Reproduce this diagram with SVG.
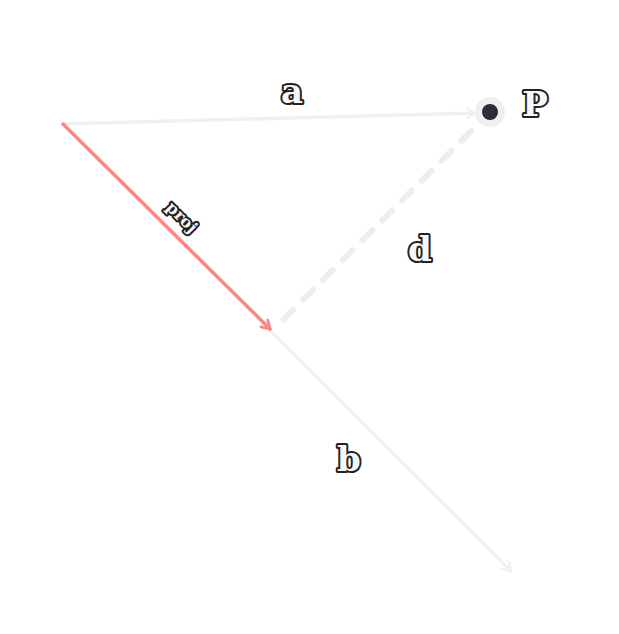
<svg xmlns="http://www.w3.org/2000/svg" width="619" height="634" viewBox="0 0 619 634">
<style>
.vec{fill:none;stroke:#f0f0f0;stroke-linecap:round}
.lbl{font-family:"DejaVu Serif","Liberation Serif",serif;font-weight:bold;fill:#f7f7f7;stroke:#222222;stroke-width:4;paint-order:stroke;stroke-linejoin:round;text-anchor:middle}
</style>
<defs>
<marker id="ahg" viewBox="0 0 12 12" refX="10" refY="6" markerWidth="12" markerHeight="12" markerUnits="userSpaceOnUse" orient="auto">
<path d="M2,1 L10,6 L2,11" fill="none" stroke="#f0f0f0" stroke-width="2.5" stroke-linecap="round" stroke-linejoin="round"/>
</marker>
<marker id="ahr" viewBox="0 0 12 12" refX="10" refY="6" markerWidth="12" markerHeight="12" markerUnits="userSpaceOnUse" orient="auto">
<path d="M2,1 L10,6 L2,11" fill="none" stroke="#ff8585" stroke-width="2.8" stroke-linecap="round" stroke-linejoin="round"/>
</marker>
</defs>
<rect width="619" height="634" fill="#ffffff"/>
<g id="connectors">
<line id="vec-b" class="vec" stroke-width="2.5" x1="63" y1="124" x2="511" y2="571" marker-end="url(#ahg)"/>
<line id="vec-a" class="vec" stroke-width="3.5" x1="63" y1="124" x2="475" y2="113" marker-end="url(#ahg)"/>
<line id="vec-d" x1="471" y1="131" x2="274" y2="329" stroke="#eeeeee" stroke-width="6" stroke-linecap="round" stroke-dasharray="14 14" fill="none"/>
<line id="vec-proj" x1="63" y1="124" x2="270" y2="329" stroke="#ff8585" stroke-width="3.5" stroke-linecap="round" fill="none" marker-end="url(#ahr)"/>
</g>
<g id="point-P">
<circle cx="490" cy="112" r="15" fill="#efefef"/>
<circle cx="490" cy="112" r="8" fill="#2b2e35"/>
<text class="lbl" x="535" y="116" font-size="34">P</text>
</g>
<g id="labels">
<text class="lbl" x="292" y="103" font-size="34">a</text>
<text class="lbl" x="420" y="261" font-size="34">d</text>
<text class="lbl" x="349" y="471" font-size="34">b</text>
<text class="lbl" x="0" y="0" font-size="16" font-weight="normal" stroke-width="2.2" transform="translate(178,221) rotate(45)">proj</text>
</g>
</svg>
